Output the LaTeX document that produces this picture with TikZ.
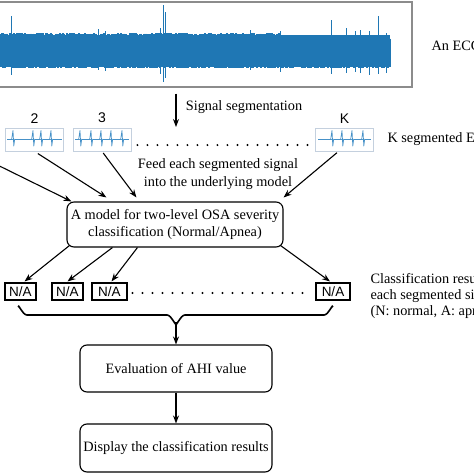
\documentclass[tikz,border=0pt]{standalone}
\usepackage{fontspec}
\setmainfont{Liberation Serif}
\newfontfamily\arial{Liberation Sans}
\usetikzlibrary{arrows.meta,calc}
\definecolor{ecgblue}{RGB}{31,119,180}
\definecolor{wavblue}{RGB}{70,145,200}
\definecolor{segframe}{RGB}{196,208,222}
\definecolor{ecgframe}{RGB}{140,140,140}
\begin{document}
\begin{tikzpicture}[>={Stealth[length=8pt,width=6pt]}, x=1pt, y=-1pt,
    font=\fontsize{14.3}{17.5}\selectfont,
    box/.style={draw, line width=1.1pt, rounded corners=7pt, align=center, inner sep=0pt},
    seg/.style={draw=segframe, line width=0.8pt, minimum width=58pt, minimum height=23pt, inner sep=0pt},
    na/.style={draw, line width=1.1pt, font=\arial\fontsize{13.5}{15}\selectfont, minimum width=31pt, minimum height=17pt, inner sep=0pt},
    link/.style={->, line width=1.1pt},
    wave/.style={wavblue, line width=0.7pt, line join=round},
    dots/.style={line width=2.2pt, line cap=round, dash pattern=on 0pt off 10pt}]
  \useasboundingbox (0,0) rectangle (474,474);
  \clip (0,0) rectangle (474,474);
  \fill[white] (0,0) rectangle (474,474);

  % whole recording
  \node[draw=ecgframe, line width=1.3pt, minimum width=472pt, minimum height=85pt, inner sep=0pt] (ecg) at (176,44.5) {};
  \pgfmathsetseed{11}
  \foreach \x in {0,1,...,390}{
      \pgfmathsetmacro\top{(\x<280 ? 33 : 36.5)+2.2*rnd}
      \pgfmathsetmacro\bot{68.5-2.2*rnd}
      \draw[ecgblue, line width=1.2pt] (\x,\top) -- (\x,\bot);
  }
  \fill[ecgblue] (0,35) rectangle (390,67);
  \foreach \x/\t/\b in {11/16/75, 98/29/70, 105/31/71, 160/28/74, 163/5/82, 165/12/78, 250/30/70,
                        280/31/72, 331/20/74, 346/28/73, 355/31/72, 360/30/73, 369/31/75, 378/16/74, 386/33/73}
      \draw[ecgblue, line width=0.9pt] (\x,\t) -- (\x,\b);
  \node[anchor=west] (ecglab) at (428,47) {An ECG signal};

  % segmentation
  \coordinate (segrow) at (176,127);
  \draw[link, shorten <=6pt] (ecg.south) -- node[right=6pt] (segtxt) {Signal segmentation} (segrow);

  \coordinate (seg1) at (-31,151);
  \node[seg] (seg2) at (34.5,139.5) {};
  \node[seg] (seg3) at (102,139.5) {};
  \node[seg] (segK) at (344.5,139.5) {};
  \foreach \s/\n in {seg2/2, seg3/3, segK/K}
      \node[font=\arial\fontsize{14}{16}\selectfont, above=1pt] (lab\n) at (\s.north) {\n};
  \draw[wave] (7,139) -- (62,139);
  \draw[wave] (75,139) -- (129,139);
  \draw[wave] (318,139) -- (371,139);
  \foreach \s in {13,33,41,51, 80,91,101,111,122, 332,342,352,363}
      \draw[wave, fill=white] (\s-1.3,139) -- (\s,130.5) -- (\s+0.8,146) -- (\s+1.7,139);
  \draw[dots] ($(seg3.east)+(6,5.5)$) -- ($(segK.west)+(-4,5.5)$);
  \node[anchor=west] (seglab) at (384,139) {K segmented ECG signals};

  % model
  \node (feed) at (218,174) [align=center] {Feed each segmented signal\\into the underlying model};
  \node[box, minimum width=216pt, minimum height=45pt] (model) at (175,224.5)
      {A model for two-level OSA severity\\classification (Normal/Apnea)};
  \draw[link] (seg1) -- ($(model.north west)+(5,0)$);
  \draw[link, shorten <=4pt] (seg2.south) -- ($(model.north west)+(40,-4)$);
  \draw[link, shorten <=2pt] (seg3.south) -- ($(model.north west)+(70,-4)$);
  \draw[link, shorten <=2pt] ($(segK.south)+(-6,0)$) -- ($(model.north east)+(0,-4)$);

  % outputs
  \node[na] (na1) at (20.5,291.5) {N/A};
  \node[na] (na2) at (67.5,291.5) {N/A};
  \node[na, minimum width=35pt] (na3) at (109.5,291.5) {N/A};
  \node[na, minimum width=34pt] (na4) at (333,291.5) {N/A};
  \draw[link] ($(model.south west)+(3,-2)$) -- ($(na1.north)+(4,-1)$);
  \draw[link] ($(model.south west)+(46,0)$) -- ($(na2.north)+(0,-1)$);
  \draw[link] ($(model.south west)+(71,0)$) -- ($(na3.north)+(2,-1)$);
  \draw[link] ($(model.south east)+(-3,-2)$) -- ($(na4.north)+(-3,-1)$);
  \draw[dots] ($(na3.east)+(5,1.5)$) -- ($(na4.west)+(-3,1.5)$);
  \node[anchor=north west, align=left, font=\fontsize{14.3}{16}\selectfont] (clslab) at (367,270)
      {Classification results of\\each segmented signal\\(N: normal, A: apnea)};

  % brace and evaluation
  \draw[line width=1.6pt] (18,307) to[out=90,in=180] (27,315) -- (167,315) to[out=0,in=-90] (176,323)
      to[out=-90,in=180] (185,315) -- (324,315) to[out=0,in=90] (333,307);
  \coordinate (brace) at (176,322);
  \node[box, minimum width=192pt, minimum height=47pt] (eval) at (176,368.5) {Evaluation of AHI value};
  \draw[link] (brace) -- (eval.north);
  \node[box, minimum width=192pt, minimum height=48pt] (disp) at (176,448) {Display the classification results};
  \draw[link] (eval.south) -- (disp.north);
\end{tikzpicture}
\end{document}
